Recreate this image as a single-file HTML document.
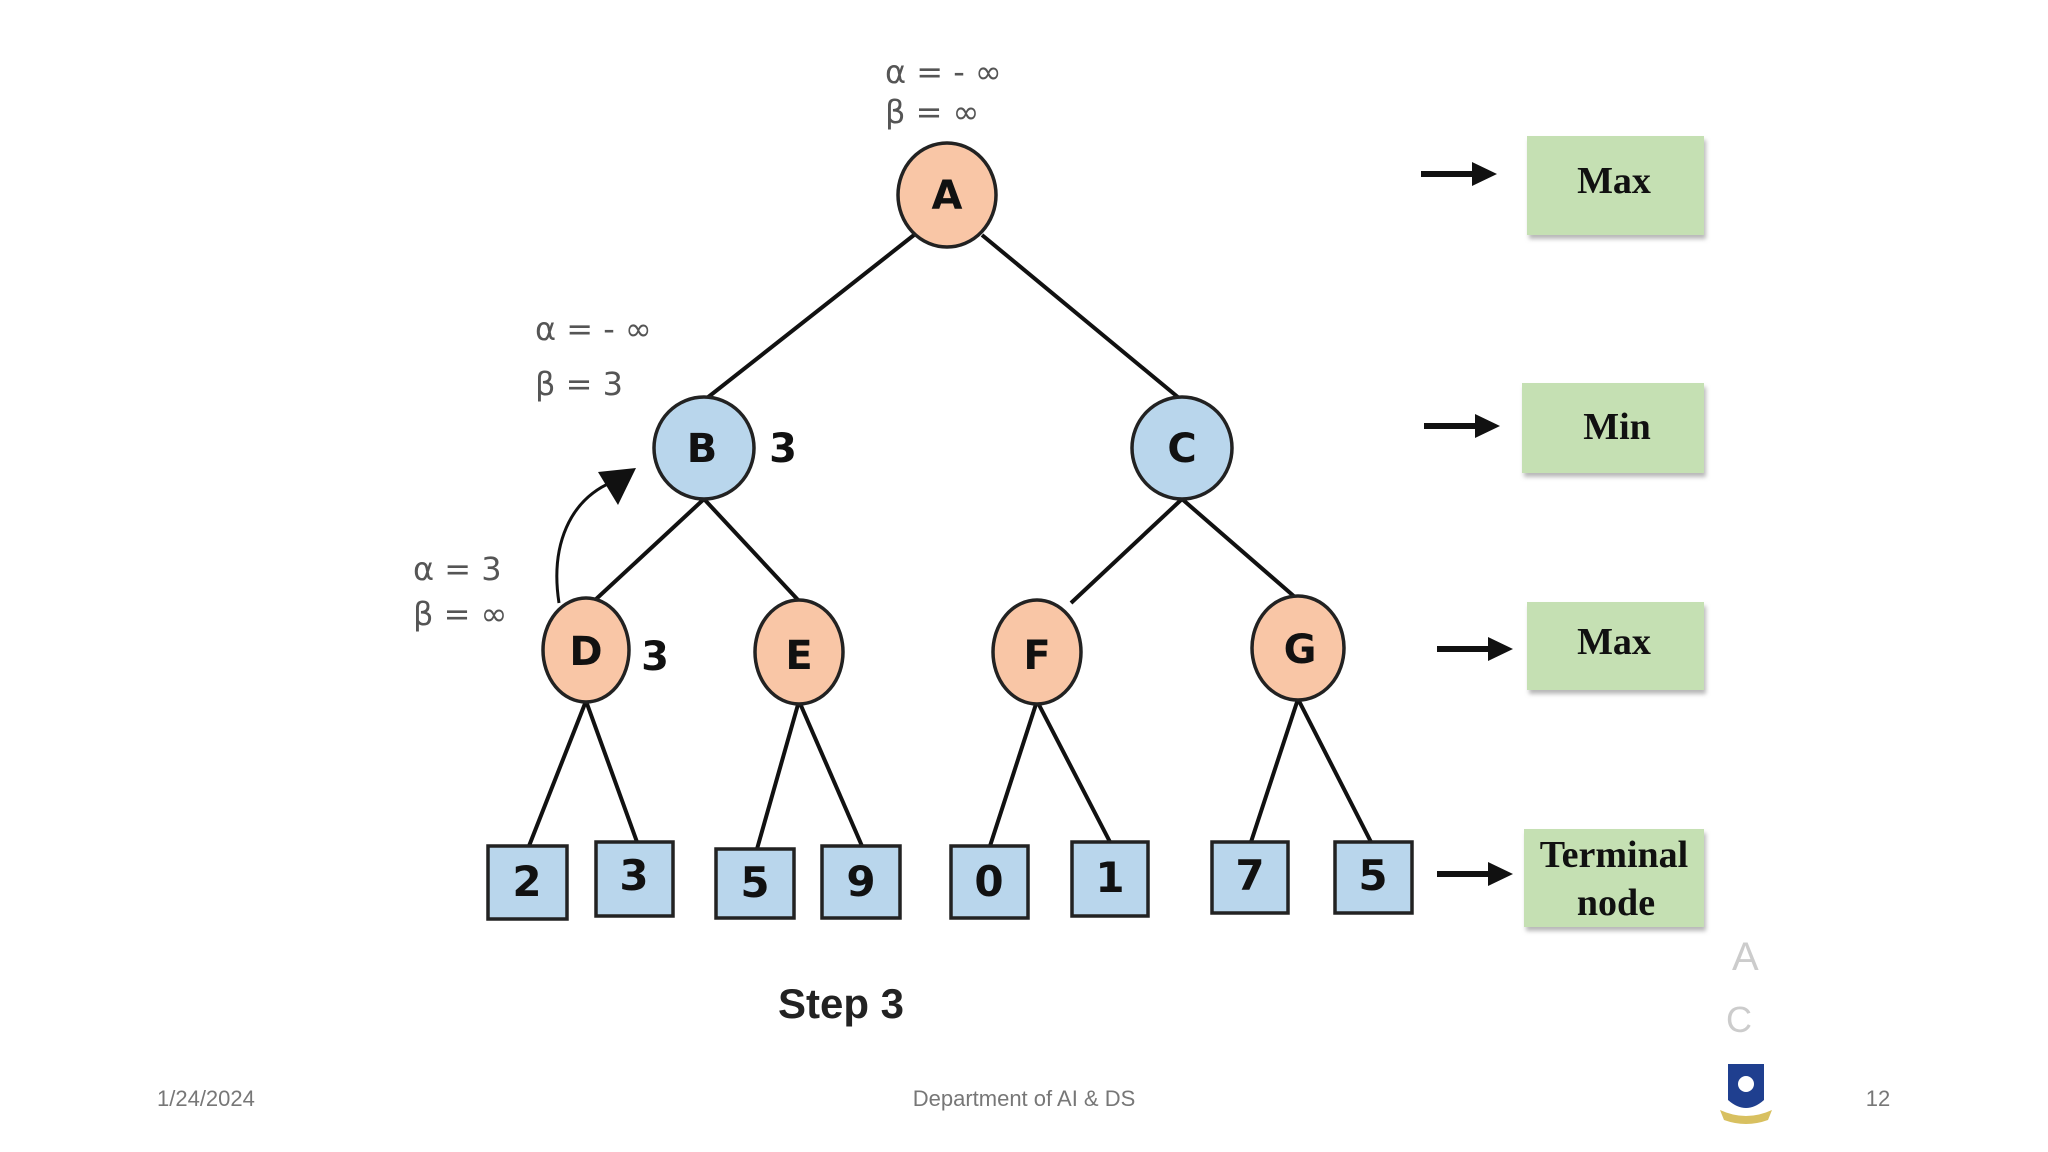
<!DOCTYPE html>
<html><head><meta charset="utf-8"><style>
html,body{margin:0;padding:0;background:#fff;}
svg{display:block}
</style></head><body>
<svg width="2048" height="1152" viewBox="0 0 2048 1152" xmlns="http://www.w3.org/2000/svg">
<defs>
<filter id="sh" x="-10%" y="-10%" width="130%" height="130%"><feDropShadow dx="2" dy="4" stdDeviation="2" flood-color="#888" flood-opacity="0.6"/></filter>
</defs>
<g stroke="#111" stroke-width="4" fill="none">
<line x1="914" y1="235" x2="707" y2="398"/>
<line x1="982" y1="235" x2="1179" y2="398"/>
<line x1="704" y1="499" x2="594" y2="601"/>
<line x1="704" y1="499" x2="799" y2="601"/>
<line x1="1182" y1="499" x2="1071" y2="603"/>
<line x1="1182" y1="499" x2="1296" y2="598"/>
<line x1="586" y1="701" x2="529" y2="846"/>
<line x1="586" y1="701" x2="637" y2="842"/>
<line x1="799" y1="701" x2="757" y2="849"/>
<line x1="799" y1="701" x2="862" y2="846"/>
<line x1="1037" y1="701" x2="990" y2="846"/>
<line x1="1037" y1="701" x2="1110" y2="842"/>
<line x1="1298" y1="699" x2="1251" y2="842"/>
<line x1="1298" y1="699" x2="1371" y2="842"/>
</g>
<path d="M559 603 C550 545 570 500 612 482" stroke="#111" stroke-width="3" fill="none"/>
<polygon points="598,472 636,468 618,505" fill="#111"/>
<g stroke="#222" stroke-width="3.5">
<ellipse cx="947" cy="195" rx="49" ry="52" fill="#f9c6a6"/>
<ellipse cx="704" cy="448" rx="50" ry="51" fill="#b9d6ec"/>
<ellipse cx="1182" cy="448" rx="50" ry="51" fill="#b9d6ec"/>
<ellipse cx="586" cy="650" rx="43" ry="52" fill="#f9c6a6"/>
<ellipse cx="799" cy="652" rx="44" ry="52" fill="#f9c6a6"/>
<ellipse cx="1037" cy="652" rx="44" ry="52" fill="#f9c6a6"/>
<ellipse cx="1298" cy="648" rx="46" ry="52" fill="#f9c6a6"/>
</g>
<g stroke="#222" stroke-width="3.5" fill="#b9d6ec">
<rect x="488" y="846" width="79" height="73"/>
<rect x="596" y="842" width="77" height="74"/>
<rect x="716" y="849" width="78" height="69"/>
<rect x="822" y="846" width="78" height="72"/>
<rect x="951" y="846" width="77" height="72"/>
<rect x="1072" y="842" width="76" height="74"/>
<rect x="1212" y="842" width="76" height="71"/>
<rect x="1335" y="842" width="77" height="71"/>
</g>
<g font-family="DejaVu Sans, Liberation Sans, sans-serif" font-weight="bold" font-size="40" fill="#111" text-anchor="middle">
<text x="947" y="209">A</text>
<text x="702" y="462">B</text>
<text x="1182" y="462">C</text>
<text x="586" y="665">D</text>
<text x="799" y="669">E</text>
<text x="1037" y="669">F</text>
<text x="1300" y="663">G</text>
<text x="783" y="462">3</text>
<text x="655" y="670">3</text>
<g font-size="42">
<text x="527" y="896">2</text>
<text x="634" y="890">3</text>
<text x="755" y="897">5</text>
<text x="861" y="896">9</text>
<text x="989" y="896">0</text>
<text x="1110" y="892">1</text>
<text x="1250" y="890">7</text>
<text x="1373" y="890">5</text>
</g>
</g>
<g font-family="DejaVu Sans, Liberation Sans, sans-serif" font-size="32" fill="#555" xml:space="preserve">
<text x="885" y="83">α = -  ∞</text>
<text x="885" y="123">β =    ∞</text>
<text x="535" y="340">α = - ∞</text>
<text x="535" y="395">β =   3</text>
<text x="413" y="580">α =  3</text>
<text x="413" y="625">β  = ∞</text>
</g>
<g filter="url(#sh)" fill="#c5e0b3">
<rect x="1527" y="136" width="177" height="99"/>
<rect x="1522" y="383" width="182" height="90"/>
<rect x="1527" y="602" width="177" height="88"/>
<rect x="1524" y="829" width="180" height="98"/>
</g>
<g font-family="Liberation Serif, serif" font-weight="bold" font-size="38" fill="#111" text-anchor="middle">
<text x="1614" y="193">Max</text>
<text x="1617" y="439">Min</text>
<text x="1614" y="654">Max</text>
<text x="1614" y="867">Terminal</text>
<text x="1616" y="915">node</text>
</g>
<g stroke="#111" stroke-width="6">
<line x1="1421" y1="174" x2="1478" y2="174"/>
<line x1="1424" y1="426" x2="1481" y2="426"/>
<line x1="1437" y1="649" x2="1494" y2="649"/>
<line x1="1437" y1="874" x2="1494" y2="874"/>
</g>
<g fill="#111">
<polygon points="1472,162 1497,174 1472,186"/>
<polygon points="1475,414 1500,426 1475,438"/>
<polygon points="1488,637 1513,649 1488,661"/>
<polygon points="1488,862 1513,874 1488,886"/>
</g>
<text x="841" y="1018" font-family="Liberation Sans, sans-serif" font-weight="bold" font-size="42" fill="#222" text-anchor="middle">Step 3</text>
<text x="1732" y="970" font-family="Liberation Sans, sans-serif" font-size="40" fill="#ccc">A</text>
<text x="1726" y="1032" font-family="Liberation Sans, sans-serif" font-size="36" fill="#ccc">C</text>
<g font-family="Liberation Sans, sans-serif" font-size="22" fill="#777">
<text x="157" y="1106">1/24/2024</text>
<text x="1024" y="1106" text-anchor="middle">Department of AI &amp; DS</text>
<text x="1878" y="1106" text-anchor="middle">12</text>
</g>
<g>
<path d="M1728 1064 L1764 1064 L1764 1100 Q1746 1116 1728 1100 Z" fill="#1f3f8f"/>
<circle cx="1746" cy="1084" r="8" fill="#fff"/>
<path d="M1720 1110 Q1746 1122 1772 1110 L1768 1120 Q1746 1128 1724 1120 Z" fill="#d8c060"/>
</g>
</svg>
</body></html>
